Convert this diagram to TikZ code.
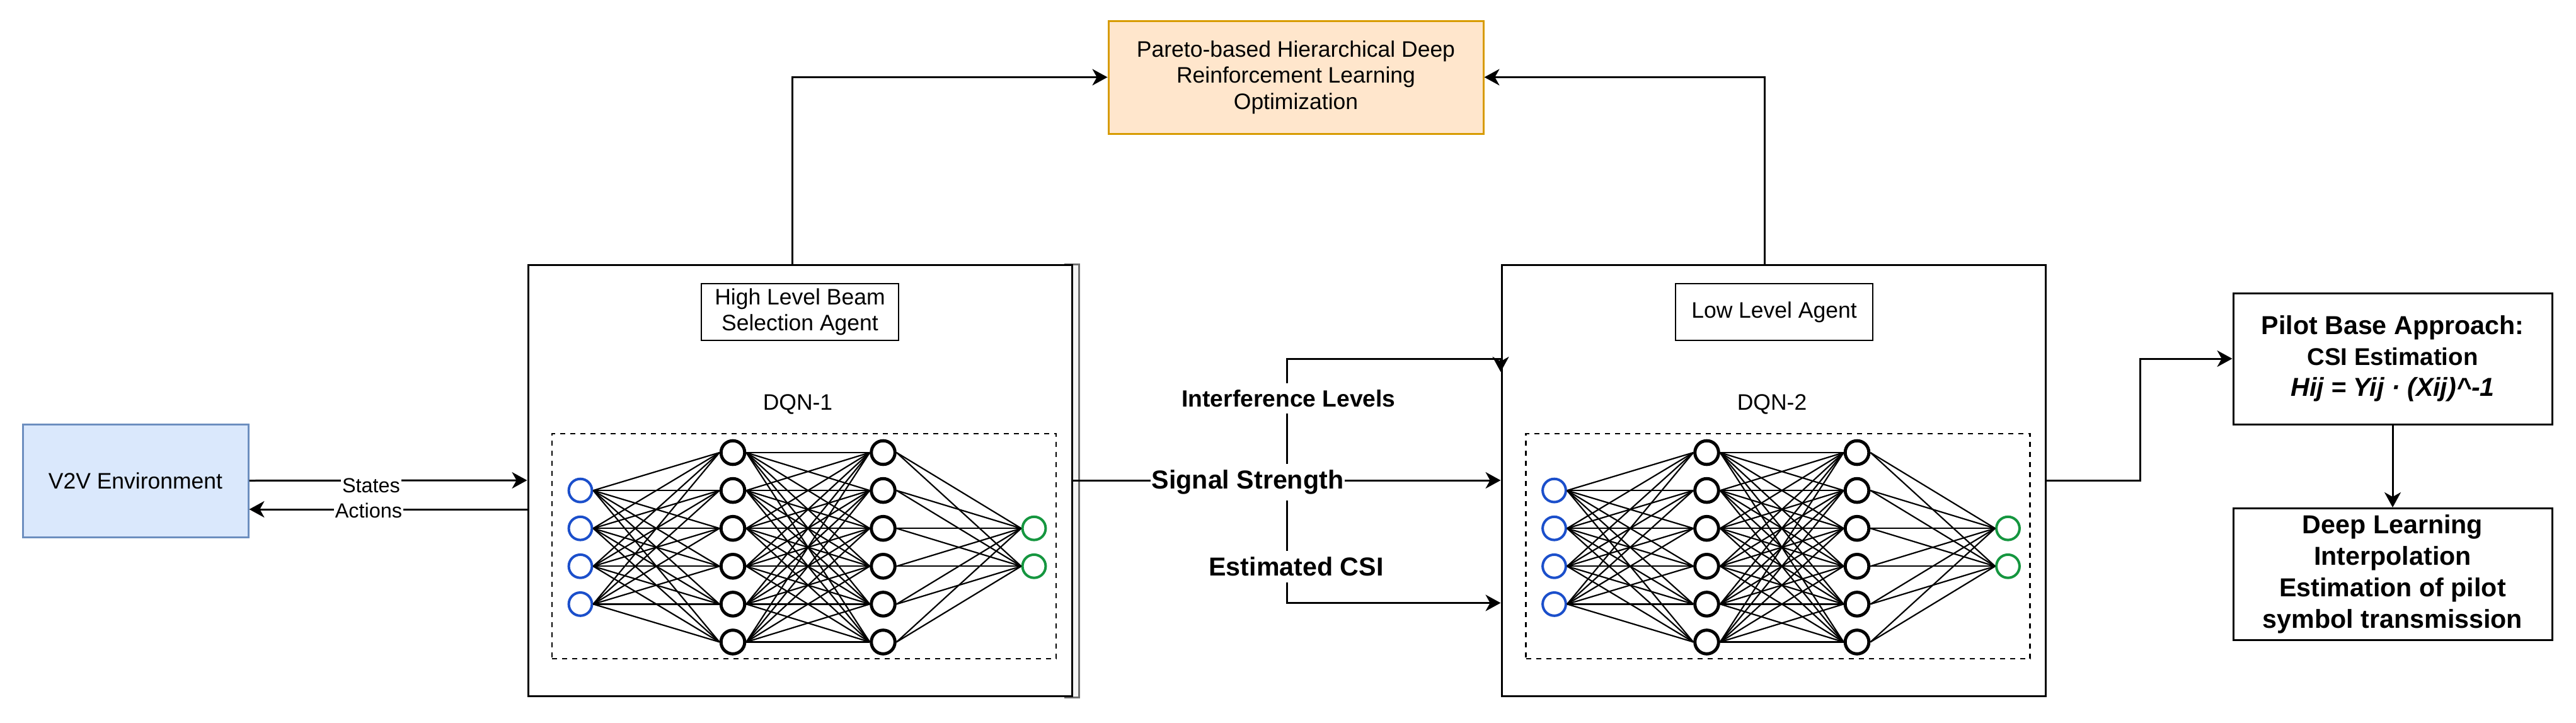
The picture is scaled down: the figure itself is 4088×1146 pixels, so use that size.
\documentclass[tikz,border=0pt]{standalone}
\usepackage{fontspec}
\setmainfont{Liberation Sans}
\usetikzlibrary{arrows.meta,calc}
\definecolor{vfill}{HTML}{DAE8FC}
\definecolor{vdraw}{HTML}{6C8EBF}
\definecolor{pfill}{HTML}{FFE6CC}
\definecolor{pdraw}{HTML}{D79B00}
\definecolor{shdraw}{HTML}{707070}
\definecolor{shfill}{HTML}{F4F4F4}
\definecolor{nblue}{HTML}{1B4FCB}
\definecolor{ngreen}{HTML}{15963F}
\begin{document}
\begin{tikzpicture}[x=0.25pt,y=-0.25pt,
  box/.style={draw, line width=0.75pt, inner sep=0pt, align=center, fill=white},
  arr/.style={line width=0.75pt, -{Stealth[length=6pt,width=6.5pt,inset=1.8pt]}},
  lbl/.style={fill=white, inner xsep=0.5pt, inner ysep=2.5pt},
  inn/.style={circle, draw=nblue, line width=1pt, minimum size=9.2pt, inner sep=0pt, fill=white},
  hid/.style={circle, draw=black, line width=1.25pt, minimum size=9.4pt, inner sep=0pt, fill=white},
  outn/.style={circle, draw=ngreen, line width=1pt, minimum size=9.2pt, inner sep=0pt, fill=white},
  nnl/.style={line width=0.55pt},
  dbox/.style={draw, line width=0.6pt, dash pattern=on 2pt off 2pt, inner sep=0pt},
  fA/.style={font=\fontsize{8.875}{10.4}\selectfont},
  fS/.style={font=\fontsize{8.1}{9.7}\selectfont},
]
\useasboundingbox (0,0) rectangle (4088,1146);

% boxes
\node[box, draw=vdraw, fill=vfill, minimum width=89.5pt, minimum height=44.75pt, fA] (v2v) at (215,762.5) {V2V Environment};
\node[box, draw=pdraw, fill=pfill, minimum width=148.75pt, minimum height=44.75pt, fA] (par) at (2056.5,122.5) {Pareto-based Hierarchical Deep\\Reinforcement Learning\\Optimization};

\draw[draw=shdraw, fill=shfill, line width=0.75pt] (1690,419.5) rectangle (1712,1106);
\node[box, minimum width=215.75pt, minimum height=171pt] (a1) at (1269.5,762) {};
\node[box, minimum width=215.75pt, minimum height=171pt] (a2) at (2814.5,762) {};

\node[box, minimum width=78.25pt, minimum height=22.5pt, line width=0.7pt, fA] (hl) at (1269.5,495) {High Level Beam\\Selection Agent};
\node[box, minimum width=78.25pt, minimum height=22.5pt, line width=0.7pt, fA] (ll) at (2815.5,495) {Low Level Agent};

\node[fA] (d1) at (1266,641) {DQN-1};
\node[fA] (d2) at (2812,641) {DQN-2};

\node[dbox, minimum width=200pt, minimum height=89.25pt] (nb1) at (1276,866.5) {};
\node[dbox, minimum width=200pt, minimum height=89.25pt] (nb2) at (2821.5,866.5) {};

\node[box, minimum width=126.5pt, minimum height=52pt, font=\fontsize{10.3}{12.2}\selectfont\bfseries] (pilot) at (3797,569)
  {Pilot Base Approach:\\{\fontsize{9.6}{12.2}\selectfont CSI Estimation}\\{\itshape Hij = Yij · (Xij)\textasciicircum-1}};
\node[box, minimum width=126.5pt, minimum height=52.25pt, font=\fontsize{10.3}{12.5}\selectfont\bfseries] (deep) at (3797,911)
  {Deep Learning\\Interpolation\\Estimation of pilot\\symbol transmission};

% neural networks
\foreach \dx/\n in {0/A,1545.5/B}{
  \foreach \k in {1,...,6}{
    \node[hid] (\n-h\k) at ({1163+\dx},{718+60.1*(\k-1)}) {};
    \node[hid] (\n-g\k) at ({1401.5+\dx},{718+60.1*(\k-1)}) {};
  }
  \foreach \k in {2,...,5}
    \node[inn] (\n-i\k) at ({921+\dx},{718+60.1*(\k-1)}) {};
  \foreach \k in {3,4}
    \node[outn] (\n-o\k) at ({1641+\dx},{718+60.1*(\k-1)}) {};
  \foreach \a in {2,...,5}
    \foreach \b in {1,...,6}
      \draw[nnl] (\n-i\a.east) -- (\n-h\b.west);
  \foreach \a in {1,...,6}
    \foreach \b in {1,...,6}
      \draw[nnl] (\n-h\a.east) -- (\n-g\b.west);
  \foreach \a in {1,...,6}
    \foreach \b in {3,4}
      \draw[nnl] (\n-g\a.east) -- (\n-o\b.west);
}

% connectors
\draw[arr] (v2v.east) -- (a1.west);
\node[lbl, fS] (st) at (589,770) {States};
\draw[arr] (a1.west |- 0,808) -- (v2v.east |- 0,808);
\node[lbl, fS] (ac) at (585,810) {Actions};

\coordinate (j) at (2042,762);
\draw[arr] (a1.east) -- (a2.west);
\draw[arr] (j) |- (a2.west |- 0,569.5) -- (a2.west |- 0,590);
\draw[arr] (j) |- (a2.west |- 0,956.5);
\node[lbl, font=\fontsize{9.3}{11}\selectfont\bfseries] (il) at (2045,632) {Interference Levels};
\node[lbl, font=\fontsize{10.3}{12}\selectfont\bfseries] (ss) at (1980,765) {Signal Strength};
\node[lbl, font=\fontsize{10.3}{12}\selectfont\bfseries] (ec) at (2057,899) {Estimated CSI};

\draw[arr] (a1.north -| 1257,0) |- (par.west);
\draw[arr] (a2.north -| 2800,0) |- (par.east);

\draw[arr] (a2.east) -- ++(149,0) |- (pilot.west);
\draw[arr] (pilot.south) -- (deep.north);
\end{tikzpicture}
\end{document}
